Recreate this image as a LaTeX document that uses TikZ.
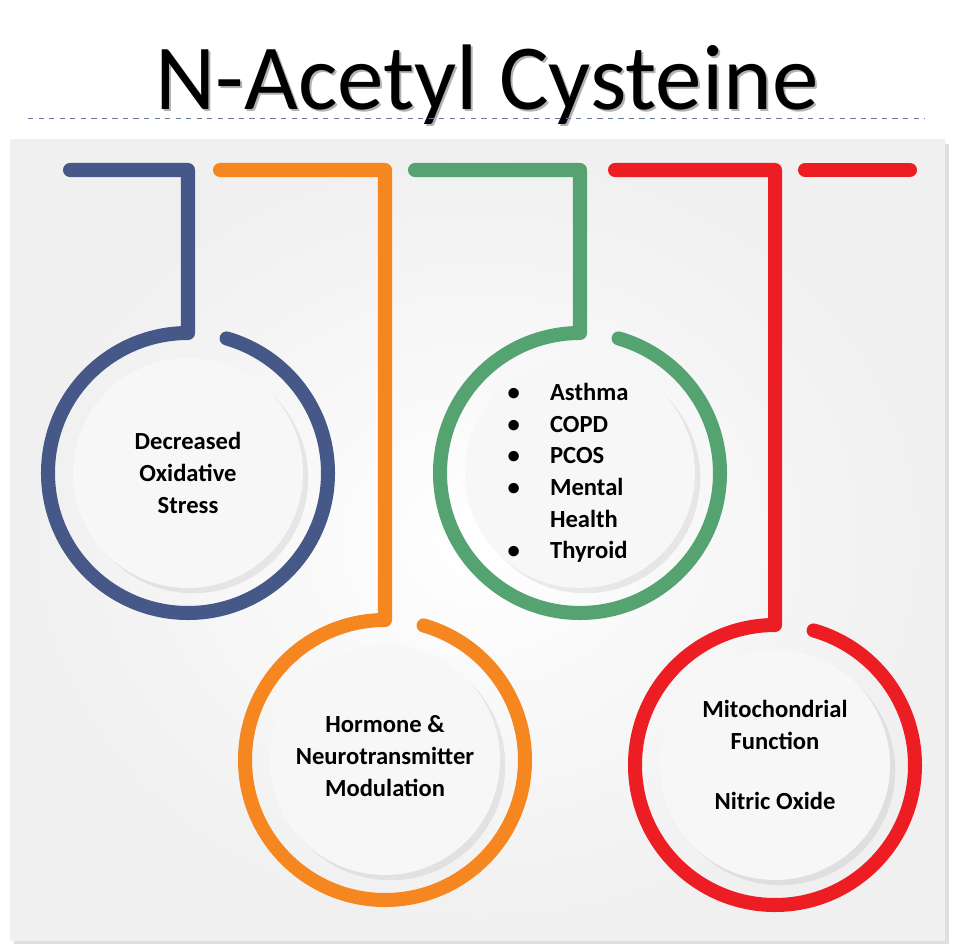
\documentclass[tikz,border=0pt]{standalone}
\usepackage{fontspec}
\setmainfont{Carlito}
\usetikzlibrary{positioning,shadows,calc}
\definecolor{navyarm}{RGB}{69,88,135}
\definecolor{orangearm}{RGB}{245,134,32}
\definecolor{greenarm}{RGB}{85,163,112}
\definecolor{redarm}{RGB}{236,30,36}
\tikzstyle{arm} = [line width=14pt*0.57,line cap=round,line join=round]
\tikzstyle{disk} = [circle,minimum size=4.6cm,fill=gray!6,drop shadow={opacity=0.15,shadow xshift=3pt,shadow yshift=-3pt}]
\tikzstyle{label} = [font=\bfseries\fontsize{14}{18}\selectfont,align=center]
\begin{document}
\begin{tikzpicture}[x=0.02cm,y=0.02cm]
	\useasboundingbox (0,0) rectangle (953,948);
	\fill[white] (0,0) rectangle (953,948);
	% panel
	\fill[gray!25] (14,4) rectangle (949,804);
	\shade[inner color=white,outer color=gray!12] (10,8) rectangle (945,808);
	% title
	\node[font=\fontsize{53}{58}\selectfont,text=gray!60] at (489,861) {N-Acetyl Cysteine};
	\node[font=\fontsize{53}{58}\selectfont] (title) at (487,863) {N-Acetyl Cysteine};
	\coordinate (dl) at (28,830);
	\coordinate (dr) at (925,830);
	\draw[navyarm!80,dashed,thin] (dl) -- (dr);
	% inner disks
	\node[disk] (c1) at (188,475) {};
	\node[disk] (c2) at (385,188) {};
	\node[disk] (c3) at (580,475) {};
	\node[disk] (c4) at (775,183) {};
	% arms
	\draw[arm,navyarm] (70,778) -- (188,778) -- ($(c1)+(0,140)$) arc[start angle=90,end angle=434,radius=140];
	\draw[arm,orangearm] (220,778) -- (385,778) -- ($(c2)+(0,140)$) arc[start angle=90,end angle=434,radius=140];
	\draw[arm,greenarm] (415,778) -- (580,778) -- ($(c3)+(0,140)$) arc[start angle=90,end angle=434,radius=140];
	\draw[arm,redarm] (615,778) -- (775,778) -- ($(c4)+(0,140)$) arc[start angle=90,end angle=434,radius=140];
	\draw[arm,redarm] (805,778) -- (910,778);
	% texts
	\node[label] at (c1) {Decreased\\Oxidative\\Stress};
	\node[label] at ($(c2)+(0,4)$) {Hormone \&\\Neurotransmitter\\Modulation};
	\node[label] at ($(c4)+(0,10)$) {Mitochondrial\\Function\\[16pt]Nitric Oxide};
	\node[label,align=left] at ($(c3)+(-12,0)$) {%
		\makebox[0.85cm][l]{•}Asthma\\
		\makebox[0.85cm][l]{•}COPD\\
		\makebox[0.85cm][l]{•}PCOS\\
		\makebox[0.85cm][l]{•}Mental\\
		\makebox[0.85cm][l]{}Health\\
		\makebox[0.85cm][l]{•}Thyroid};
\end{tikzpicture}
\end{document}
